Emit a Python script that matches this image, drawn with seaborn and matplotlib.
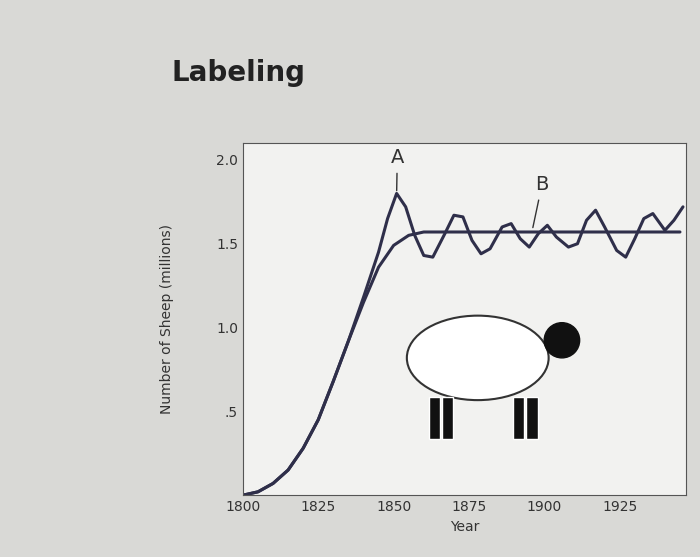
import matplotlib
matplotlib.use("Agg")
import matplotlib.pyplot as plt
import seaborn as sns
import pandas as pd
from matplotlib.patches import Ellipse, Rectangle

years_s = [1800, 1805, 1810, 1815, 1820, 1825, 1830, 1835, 1840, 1845, 1850, 1855, 1860, 1870, 1900, 1945]
vals_s = [0.0, 0.02, 0.07, 0.15, 0.28, 0.45, 0.68, 0.92, 1.15, 1.36, 1.49, 1.55, 1.57, 1.57, 1.57, 1.57]
years_o = [1800, 1805, 1810, 1815, 1820, 1825, 1830, 1835, 1840, 1845, 1848, 1851, 1854, 1857, 1860, 1863, 1867, 1870, 1873, 1876, 1879, 1882, 1886, 1889, 1892, 1895, 1898, 1901, 1904, 1908, 1911, 1914, 1917, 1920, 1924, 1927, 1930, 1933, 1936, 1940, 1943, 1946]
vals_o = [0.0, 0.02, 0.07, 0.15, 0.28, 0.45, 0.68, 0.92, 1.18, 1.45, 1.65, 1.80, 1.72, 1.55, 1.43, 1.42, 1.56, 1.67, 1.66, 1.52, 1.44, 1.47, 1.60, 1.62, 1.53, 1.48, 1.56, 1.61, 1.54, 1.48, 1.50, 1.64, 1.70, 1.60, 1.46, 1.42, 1.53, 1.65, 1.68, 1.58, 1.64, 1.72]
yticks = [0.5, 1.0, 1.5, 2.0]
yticklabels = [".5", "1.0", "1.5", "2.0"]
xticks = [1800, 1825, 1850, 1875, 1900, 1925]

sns.set_style("white")
fig = plt.figure(figsize=(7, 5.57), dpi=100, facecolor="#d9d9d6")
ax = fig.add_axes([0.347, 0.111, 0.633, 0.632])
ax.set_facecolor("#f2f2f0")
col = "#2f2f4a"
sns.lineplot(x=years_s, y=vals_s, ax=ax, color=col, lw=2.2)
sns.lineplot(x=years_o, y=vals_o, ax=ax, color=col, lw=2.2)
ax.set_xlim(1800, 1947)
ax.set_ylim(0, 2.1)
ax.set_xticks(xticks)
ax.set_xticklabels([str(x) for x in xticks], fontsize=10, color="#333")
ax.set_yticks(yticks)
ax.set_yticklabels(yticklabels, fontsize=10, color="#333")
ax.tick_params(direction="in", length=8, color="#555")
for s in ax.spines.values():
    s.set_color("#555")
ax.set_xlabel("Year", fontsize=10, color="#333")
ax.set_ylabel("Number of Sheep (millions)", fontsize=10, color="#333", labelpad=30)
ax.annotate("A", xy=(1851, 1.8), xytext=(1849, 1.98), fontsize=14, color="#333",
            arrowprops=dict(arrowstyle="-", color="#333"))
ax.annotate("B", xy=(1896, 1.58), xytext=(1897, 1.82), fontsize=14, color="#333",
            arrowprops=dict(arrowstyle="-", color="#333"))
# simple sheep illustration
ax.add_patch(Ellipse((0.53, 0.39), 0.32, 0.24, transform=ax.transAxes, fc="white", ec="#333", lw=1.5))
ax.add_patch(Ellipse((0.72, 0.44), 0.08, 0.10, transform=ax.transAxes, fc="#111", ec="#111"))
for xx in [0.42, 0.45, 0.61, 0.64]:
    ax.add_patch(Rectangle((xx, 0.16), 0.025, 0.12, transform=ax.transAxes, fc="#111"))
fig.text(0.245, 0.855, "Labeling", fontsize=20, color="#222", fontweight="bold")
fig.savefig("out.png", dpi=100, facecolor=fig.get_facecolor())
